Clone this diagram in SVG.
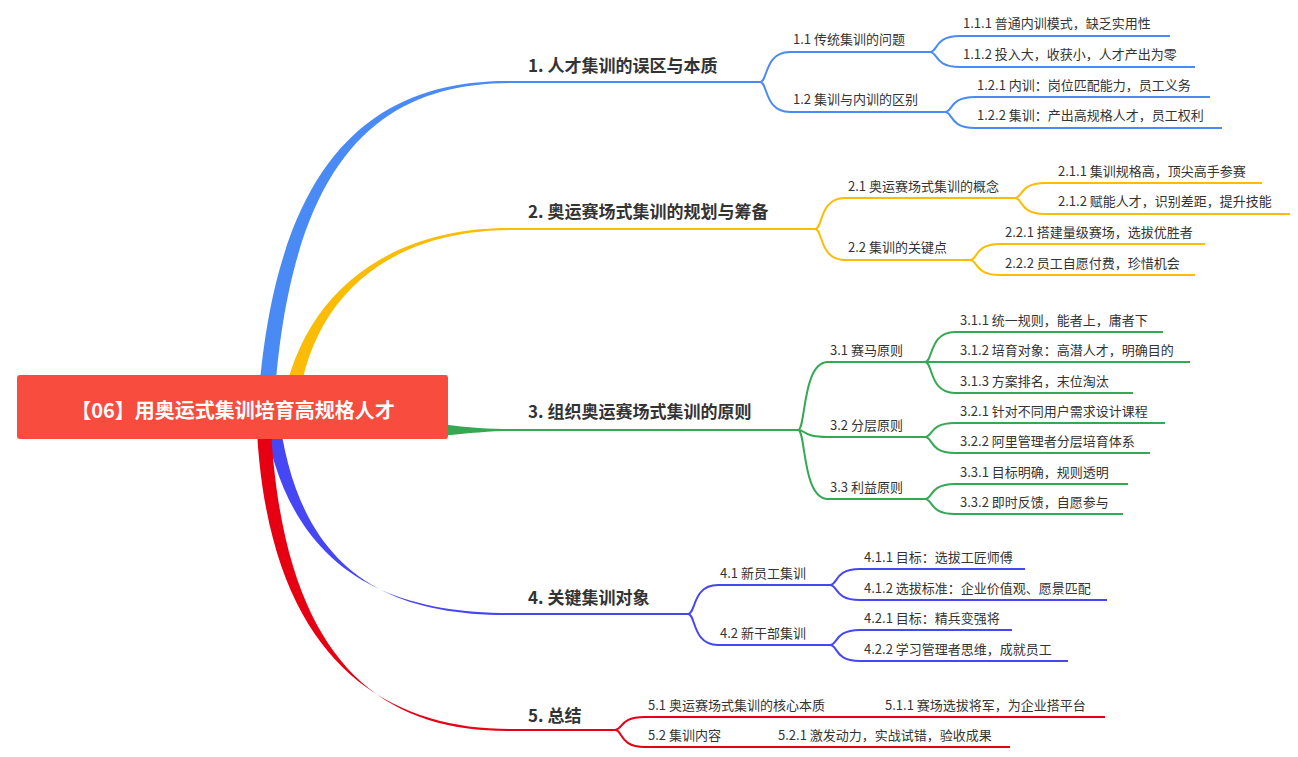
<svg xmlns="http://www.w3.org/2000/svg" width="1298" height="757" viewBox="0 0 1298 757">
<style>
text{font-family:"Noto Sans CJK SC","Noto Sans",sans-serif;fill:#333}
.m{font-size:17px;font-weight:bold}
.s{font-size:13px}
.c path{fill:none;stroke-width:2}
.b1{stroke:#4A8AF4}.b2{stroke:#FBBC05}.b3{stroke:#34A853}.b4{stroke:#4646F5}.b5{stroke:#E60012}
</style>
<rect width="1298" height="757" fill="#fff"/>
<g id="connectors" class="c">
<path d="M258,407 C275,150 380,80 510,81 L510,83 C385,84 290,150 274,407 Z" fill="#4A8AF4" stroke="none" style="fill:#4A8AF4"/>
<path d="M282,407 C300,300 380,228 510,228 L510,230 C385,231 310,300 298,407 Z" style="fill:#FBBC05;stroke:none"/>
<path d="M440,424 C470,428 490,429 510,429 L510,431 C490,431 470,433 440,436 Z" style="fill:#34A853;stroke:none"/>
<path d="M262,407 C285,565 380,613 510,613 L510,615 C380,616 295,565 278,407 Z" style="fill:#4646F5;stroke:none"/>
<path d="M256,407 C262,655 380,729 510,729 L510,731 C375,732 278,655 270,407 Z" style="fill:#E60012;stroke:none"/>
<path class="b1" d="M505,82 H760 M760,82 C768,82 764,52 790,52 H930 M760,82 C768,82 764,112 790,112 H945 M930,52 C938,52 934,36 960,36 H1170 M930,52 C938,52 934,67 960,67 H1195 M945,112 C953,112 949,97 975,97 H1210 M945,112 C953,112 949,128 975,128 H1222"/>
<path class="b2" d="M505,229 H815 M815,229 C823,229 819,198 845,198 H1015 M815,229 C823,229 819,260 845,260 H970 M1015,198 C1023,198 1019,183 1045,183 H1262 M1015,198 C1023,198 1019,214 1045,214 H1290 M970,260 C978,260 974,244 1000,244 H1205 M970,260 C978,260 974,275 1000,275 H1195"/>
<path class="b3" d="M505,430 H798 M798,430 C806,430 802,362 828,362 H925 M798,430 C806,430 802,437 828,437 H925 M798,430 C806,430 802,499 828,499 H925 M925,362 C933,362 929,332 955,332 H1163 M925,362 H1190 M925,362 C933,362 929,393 955,393 H1133 M925,437 C933,437 929,423 955,423 H1165 M925,437 C933,437 929,453 955,453 H1150 M925,499 C933,499 929,484 955,484 H1128 M925,499 C933,499 929,514 955,514 H1123"/>
<path class="b4" d="M505,614 H688 M688,614 C696,614 692,585 718,585 H830 M688,614 C696,614 692,645 718,645 H830 M830,585 C838,585 834,569 860,569 H1025 M830,585 C838,585 834,600 860,600 H1107 M830,645 C838,645 834,630 860,630 H1012 M830,645 C838,645 834,661 860,661 H1068"/>
<path class="b5" d="M505,730 H615 M615,730 C623,730 619,717 645,717 H1105 M615,730 C623,730 619,747 645,747 H1010"/>
</g>
<g id="root"><rect x="17" y="375" width="431" height="64" rx="3" fill="#F84C3E"/><text x="233" y="418" text-anchor="middle" style="fill:#fff;font-size:20px;font-weight:bold">【06】用奥运式集训培育高规格人才</text></g>
<g id="n1"><text class="m" x="528" y="72">1. 人才集训的误区与本质</text>
<text class="s" x="793" y="44">1.1 传统集训的问题</text><text class="s" x="793" y="104">1.2 集训与内训的区别</text>
<text class="s" x="963" y="28">1.1.1 普通内训模式，缺乏实用性</text><text class="s" x="963" y="59">1.1.2 投入大，收获小，人才产出为零</text>
<text class="s" x="977" y="90">1.2.1 内训：岗位匹配能力，员工义务</text><text class="s" x="977" y="120">1.2.2 集训：产出高规格人才，员工权利</text></g>
<g id="n2"><text class="m" x="528" y="218">2. 奥运赛场式集训的规划与筹备</text>
<text class="s" x="848" y="191">2.1 奥运赛场式集训的概念</text><text class="s" x="848" y="252">2.2 集训的关键点</text>
<text class="s" x="1058" y="176">2.1.1 集训规格高，顶尖高手参赛</text><text class="s" x="1058" y="206">2.1.2 赋能人才，识别差距，提升技能</text>
<text class="s" x="1005" y="237">2.2.1 搭建量级赛场，选拔优胜者</text><text class="s" x="1005" y="268">2.2.2 员工自愿付费，珍惜机会</text></g>
<g id="n3"><text class="m" x="528" y="418">3. 组织奥运赛场式集训的原则</text>
<text class="s" x="830" y="355">3.1 赛马原则</text><text class="s" x="830" y="430">3.2 分层原则</text><text class="s" x="830" y="492">3.3 利益原则</text>
<text class="s" x="960" y="325">3.1.1 统一规则，能者上，庸者下</text><text class="s" x="960" y="355">3.1.2 培育对象：高潜人才，明确目的</text><text class="s" x="960" y="386">3.1.3 方案排名，末位淘汰</text>
<text class="s" x="960" y="416">3.2.1 针对不同用户需求设计课程</text><text class="s" x="960" y="446">3.2.2 阿里管理者分层培育体系</text>
<text class="s" x="960" y="477">3.3.1 目标明确，规则透明</text><text class="s" x="960" y="507">3.3.2 即时反馈，自愿参与</text></g>
<g id="n4"><text class="m" x="528" y="604">4. 关键集训对象</text>
<text class="s" x="720" y="578">4.1 新员工集训</text><text class="s" x="720" y="638">4.2 新干部集训</text>
<text class="s" x="864" y="562">4.1.1 目标：选拔工匠师傅</text><text class="s" x="864" y="593">4.1.2 选拔标准：企业价值观、愿景匹配</text>
<text class="s" x="864" y="623">4.2.1 目标：精兵变强将</text><text class="s" x="864" y="654">4.2.2 学习管理者思维，成就员工</text></g>
<g id="n5"><text class="m" x="528" y="722">5. 总结</text>
<text class="s" x="648" y="710">5.1 奥运赛场式集训的核心本质</text><text class="s" x="885" y="710">5.1.1 赛场选拔将军，为企业搭平台</text>
<text class="s" x="648" y="740">5.2 集训内容</text><text class="s" x="778" y="740">5.2.1 激发动力，实战试错，验收成果</text></g>
</svg>
